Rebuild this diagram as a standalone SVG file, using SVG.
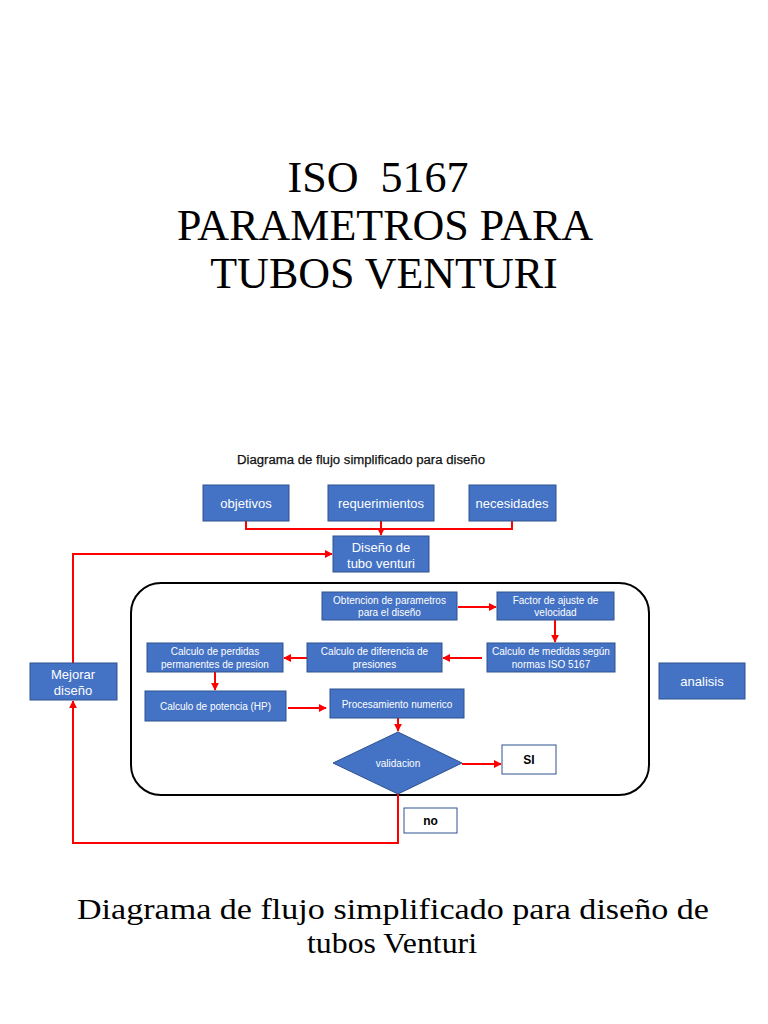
<svg xmlns="http://www.w3.org/2000/svg" width="768" height="1024" viewBox="0 0 768 1024">
<style>
.title{font-family:"Liberation Serif","Times New Roman",serif;font-size:44px;fill:#000;text-anchor:middle}
.cap{font-family:"Liberation Serif","Times New Roman",serif;font-size:29px;fill:#000;text-anchor:middle}
.sub{font-family:"Liberation Sans",Arial,sans-serif;font-size:12.5px;fill:#111;text-anchor:middle;stroke:#111;stroke-width:0.25}
.box{fill:#4472C4;stroke:#2F528F;stroke-width:1}
.wbox{fill:#fff;stroke:#2F528F;stroke-width:1}
.t{font-family:"Liberation Sans",Arial,sans-serif;fill:#fff;text-anchor:middle}
.t12{font-size:13px}
.t9{font-size:10px}
.tb{font-family:"Liberation Sans",Arial,sans-serif;fill:#000;text-anchor:middle;font-size:12px;font-weight:bold}
.c{fill:none;stroke:#FF0000;stroke-width:2}
</style>
<defs>
<marker id="ah" viewBox="0 0 10 10" refX="9" refY="5" markerWidth="4" markerHeight="4" orient="auto" markerUnits="strokeWidth">
<path d="M0,0 L10,5 L0,10 z" fill="#FF0000"/>
</marker>
</defs>
<rect width="768" height="1024" fill="#fff"/>
<text class="title" x="378" y="192">ISO&#160; 5167</text>
<text class="title" x="385" y="240">PARAMETROS PARA</text>
<text class="title" x="384" y="288">TUBOS VENTURI</text>
<text class="sub" x="361" y="464" textLength="248" lengthAdjust="spacingAndGlyphs">Diagrama de flujo simplificado para diseño</text>
<rect id="container" x="131" y="583" width="518" height="212" rx="30" ry="30" fill="none" stroke="#000" stroke-width="2"/>
<g id="connectors">
<polyline class="c" points="246,521 246,529 512,529 512,521"/>
<line class="c" x1="381" y1="521" x2="381" y2="535" marker-end="url(#ah)"/>
<polyline class="c" points="73,663 73,554 332,554" marker-end="url(#ah)"/>
<line class="c" x1="458" y1="607" x2="496" y2="607" marker-end="url(#ah)"/>
<line class="c" x1="555" y1="620" x2="555" y2="642" marker-end="url(#ah)"/>
<line class="c" x1="482" y1="658" x2="443" y2="658" marker-end="url(#ah)"/>
<line class="c" x1="307" y1="658" x2="284" y2="658" marker-end="url(#ah)"/>
<line class="c" x1="215" y1="672" x2="215" y2="690" marker-end="url(#ah)"/>
<line class="c" x1="288" y1="708" x2="326" y2="708" marker-end="url(#ah)"/>
<line class="c" x1="398" y1="718" x2="398" y2="731" marker-end="url(#ah)"/>
<line class="c" x1="462" y1="764" x2="501" y2="764" marker-end="url(#ah)"/>
<polyline class="c" points="398,794 398,843 73,843 73,701" marker-end="url(#ah)"/>
</g>
<g id="objetivos"><rect class="box" x="203" y="485" width="86" height="36"/><text class="t t12" x="246" y="508">objetivos</text></g>
<g id="requerimientos"><rect class="box" x="328" y="485" width="106" height="36"/><text class="t t12" x="381" y="508">requerimientos</text></g>
<g id="necesidades"><rect class="box" x="469" y="485" width="87" height="36"/><text class="t t12" x="512" y="508">necesidades</text></g>
<g id="diseno"><rect class="box" x="333" y="536" width="96" height="36"/><text class="t t12" x="381" y="552">Diseño de</text><text class="t t12" x="381" y="568">tubo venturi</text></g>
<g id="mejorar"><rect class="box" x="30" y="663" width="87" height="37"/><text class="t t12" x="73" y="679">Mejorar</text><text class="t t12" x="73" y="695">diseño</text></g>
<g id="analisis"><rect class="box" x="659" y="663" width="86" height="36"/><text class="t t12" x="702" y="686">analisis</text></g>
<g id="obtencion"><rect class="box" x="322" y="592" width="135" height="28"/><text class="t t9" x="389.5" y="604">Obtencion de parametros</text><text class="t t9" x="389.5" y="616">para el diseño</text></g>
<g id="factor"><rect class="box" x="497" y="592" width="117" height="28"/><text class="t t9" x="555.5" y="604">Factor de ajuste de</text><text class="t t9" x="555.5" y="616">velocidad</text></g>
<g id="medidas"><rect class="box" x="487" y="643" width="128" height="29"/><text class="t t9" x="551" y="655">Calculo de medidas según</text><text class="t t9" x="551" y="668">normas ISO 5167</text></g>
<g id="diferencia"><rect class="box" x="307" y="643" width="135" height="29"/><text class="t t9" x="374.5" y="655">Calculo de diferencia de</text><text class="t t9" x="374.5" y="668">presiones</text></g>
<g id="perdidas"><rect class="box" x="147" y="643" width="136" height="29"/><text class="t t9" x="215" y="655">Calculo de perdidas</text><text class="t t9" x="215" y="668">permanentes de presion</text></g>
<g id="potencia"><rect class="box" x="145" y="691" width="141" height="30"/><text class="t t9" x="215.5" y="710">Calculo de potencia (HP)</text></g>
<g id="procesamiento"><rect class="box" x="330" y="689" width="134" height="29"/><text class="t t9" x="397" y="708">Procesamiento numerico</text></g>
<g id="validacion"><polygon class="box" points="398,732 462,763 398,794 333,763"/><text class="t t9" x="398" y="767">validacion</text></g>
<g id="si"><rect class="wbox" x="502" y="745" width="54" height="29"/><text class="tb" x="529" y="764">SI</text></g>
<g id="no"><rect class="wbox" x="404" y="808" width="53" height="25"/><text class="tb" x="430.5" y="825">no</text></g>
<text class="cap" x="393" y="919" textLength="632" lengthAdjust="spacingAndGlyphs">Diagrama de flujo simplificado para diseño de</text>
<text class="cap" x="392" y="953" textLength="170" lengthAdjust="spacingAndGlyphs">tubos Venturi</text>
</svg>
